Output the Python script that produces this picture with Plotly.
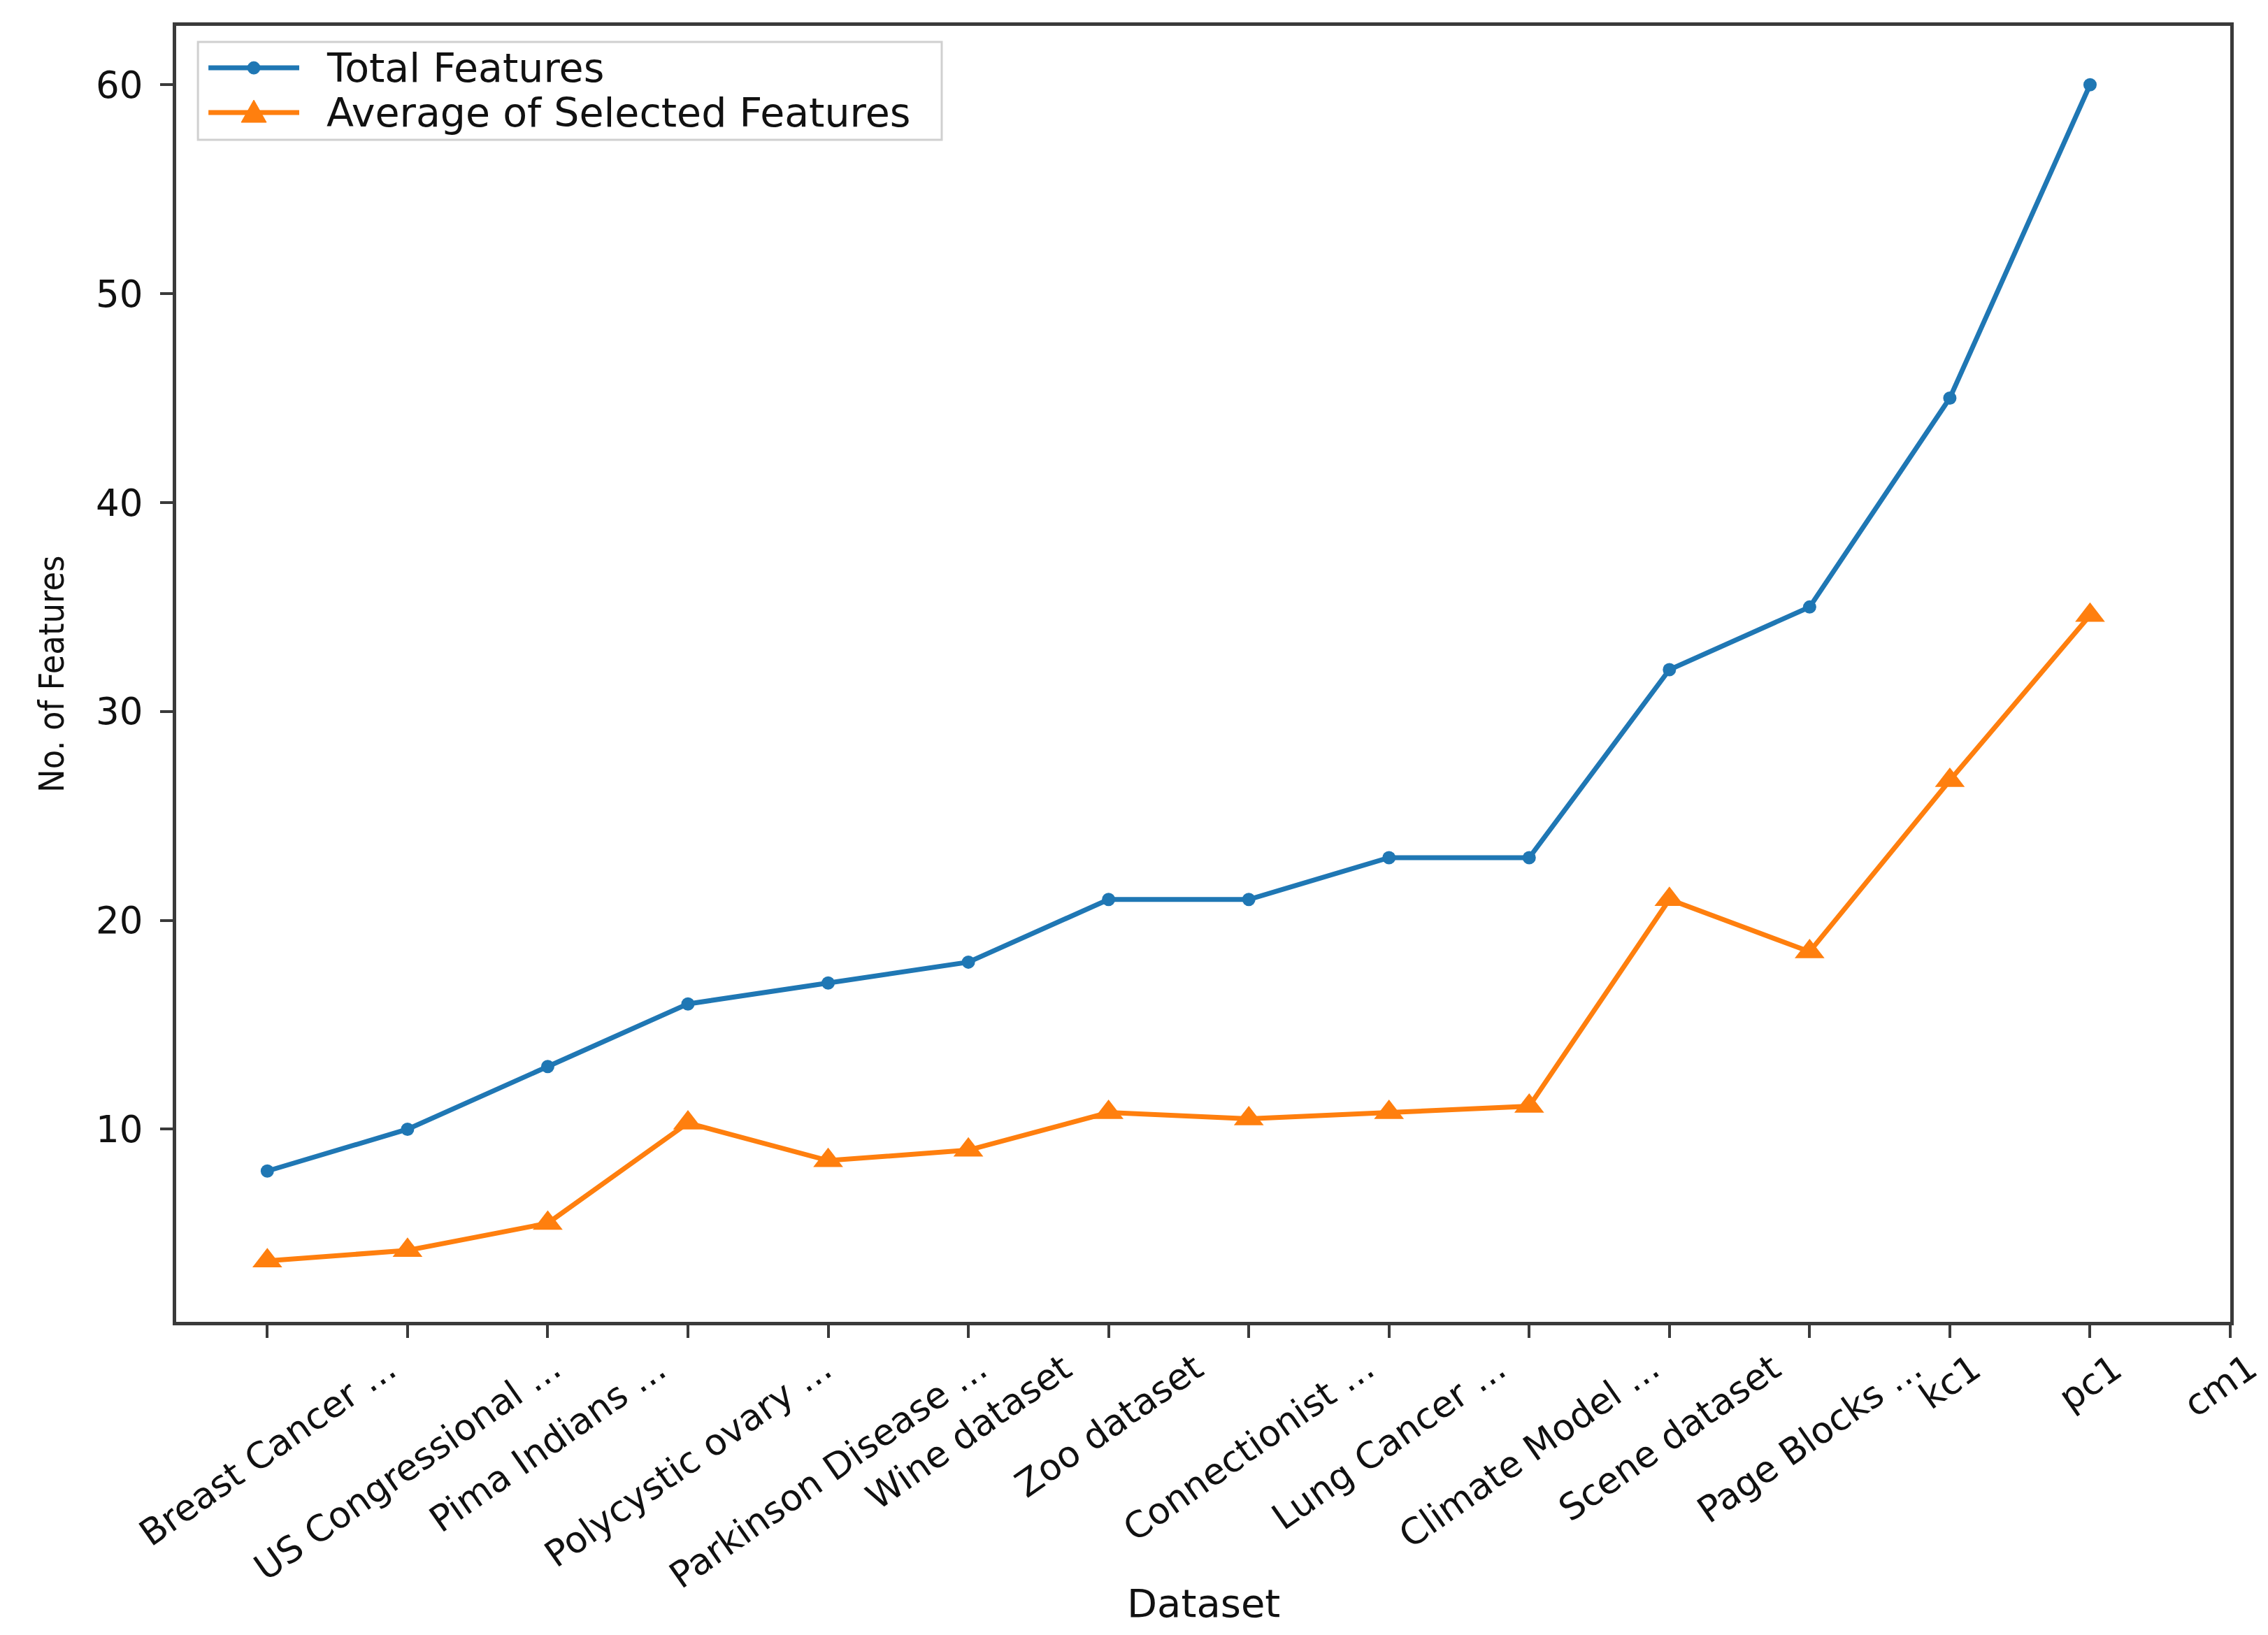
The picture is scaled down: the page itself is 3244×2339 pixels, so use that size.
## Imports
import plotly.graph_objects as go

## Data
datasets = ["Breast Cancer ...", "US Congressional ...", "Pima Indians ...",
            "Polycystic ovary ...", "Parkinson Disease ...", "Wine dataset",
            "Zoo dataset", "Connectionist ...", "Lung Cancer ...",
            "Climate Model ...", "Scene dataset", "Page Blocks ...",
            "kc1", "pc1", "cm1"]
total_features = [8, 10, 13, 16, 17, 18, 21, 21, 23, 23, 32, 35, 45, 60]
avg_selected = [3.7, 4.2, 5.5, 10.3, 8.5, 9.0, 10.8, 10.5, 10.8, 11.1, 21.0, 18.5, 26.7, 34.6]
y_ticks = [10, 20, 30, 40, 50, 60]
legend_names = ["Total Features", "Average of Selected Features"]

blue = "#1f77b4"
orange = "#ff7f0e"
axis_col = "#3a3a3a"
txt_col = "#111"

## Figure
fig = go.Figure()

fig.add_trace(go.Scatter(
    x=datasets[:len(total_features)], y=total_features, name=legend_names[0],
    mode="lines+markers", showlegend=False,
    line=dict(color=blue, width=7),
    marker=dict(symbol="circle", size=19, color=blue),
))
fig.add_trace(go.Scatter(
    x=datasets[:len(avg_selected)], y=avg_selected, name=legend_names[1],
    mode="lines+markers", showlegend=False,
    line=dict(color=orange, width=7),
    marker=dict(symbol="triangle-up", size=37, color=orange),
))

# tick labels centred under each tick, like matplotlib's rotated labels
annotations = []
for i, name in enumerate(datasets):
    annotations.append(dict(
        x=name, xref="x", y=0, yref="paper", yshift=-32,
        xshift=-14 if i == len(datasets) - 1 else 0,
        text=name, showarrow=False, textangle=-35,
        xanchor="center", yanchor="top",
        font=dict(family="DejaVu Sans", size=52, color=txt_col),
    ))

# axis titles
annotations.append(dict(
    x=0.5, xref="paper", y=-0.217, yref="paper", text="Dataset",
    showarrow=False, xanchor="center", yanchor="middle",
    font=dict(family="DejaVu Sans", size=56, color=txt_col),
))
annotations.append(dict(
    x=-0.0606, xref="paper", y=0.5, yref="paper", text="No. of Features",
    showarrow=False, textangle=-90, xanchor="center", yanchor="middle",
    font=dict(family="DejaVu Sans Condensed, DejaVu Sans", size=50, color=txt_col),
))

# legend drawn by hand so the line samples are as long as matplotlib's
shapes = [dict(type="rect", xref="paper", yref="paper",
               x0=0.0106, x1=0.3727, y0=0.9121, y1=0.9876,
               line=dict(color="#d0d0d0", width=3), fillcolor="rgba(255,255,255,0.8)", layer="above")]
leg_rows = [(0.9676, blue, "circle"), (0.9331, orange, "triangle")]
for (ly, col, sym), label in zip(leg_rows, legend_names):
    shapes.append(dict(type="line", xref="paper", yref="paper",
                       x0=0.0157, x1=0.0599, y0=ly, y1=ly,
                       line=dict(color=col, width=7), layer="above"))
    if sym == "circle":
        shapes.append(dict(type="circle", xref="paper", yref="paper",
                           xsizemode="pixel", ysizemode="pixel", xanchor=0.0378, yanchor=ly,
                           x0=-9, x1=9, y0=-9, y1=9,
                           fillcolor=col, line=dict(color=col, width=1), layer="above"))
    else:
        shapes.append(dict(type="path", xref="paper", yref="paper",
                           xsizemode="pixel", ysizemode="pixel", xanchor=0.0378, yanchor=ly,
                           path="M -18 -14 L 18 -14 L 0 18 Z",
                           fillcolor=col, line=dict(color=col, width=1), layer="above"))
    annotations.append(dict(
        x=0.0725, xref="paper", y=ly, yref="paper", text=label,
        showarrow=False, xanchor="left", yanchor="middle",
        font=dict(family="DejaVu Sans", size=57, color=txt_col),
    ))

fig.update_layout(
    width=3244, height=2339,
    margin=dict(l=244, r=62, t=29, b=456),
    paper_bgcolor="white", plot_bgcolor="white",
    font=dict(family="DejaVu Sans", size=48, color=txt_col),
    annotations=annotations,
    shapes=shapes,
    showlegend=False,
)

fig.update_xaxes(
    type="category", categoryorder="array", categoryarray=datasets,
    range=[-0.65, 14],
    showticklabels=False, showgrid=False, zeroline=False,
    ticks="outside", ticklen=18, tickwidth=4, tickcolor=axis_col,
    showline=True, linewidth=5, linecolor=axis_col, mirror=True,
)
fig.update_yaxes(
    range=[0.78, 62.82], tickvals=y_ticks,
    showgrid=False, zeroline=False,
    ticks="outside", ticklen=18, tickwidth=4, tickcolor=axis_col,
    ticklabelstandoff=14,
    showline=True, linewidth=5, linecolor=axis_col, mirror=True,
    tickfont=dict(family="DejaVu Sans", size=53, color=txt_col),
)

fig.write_html("out.html")
